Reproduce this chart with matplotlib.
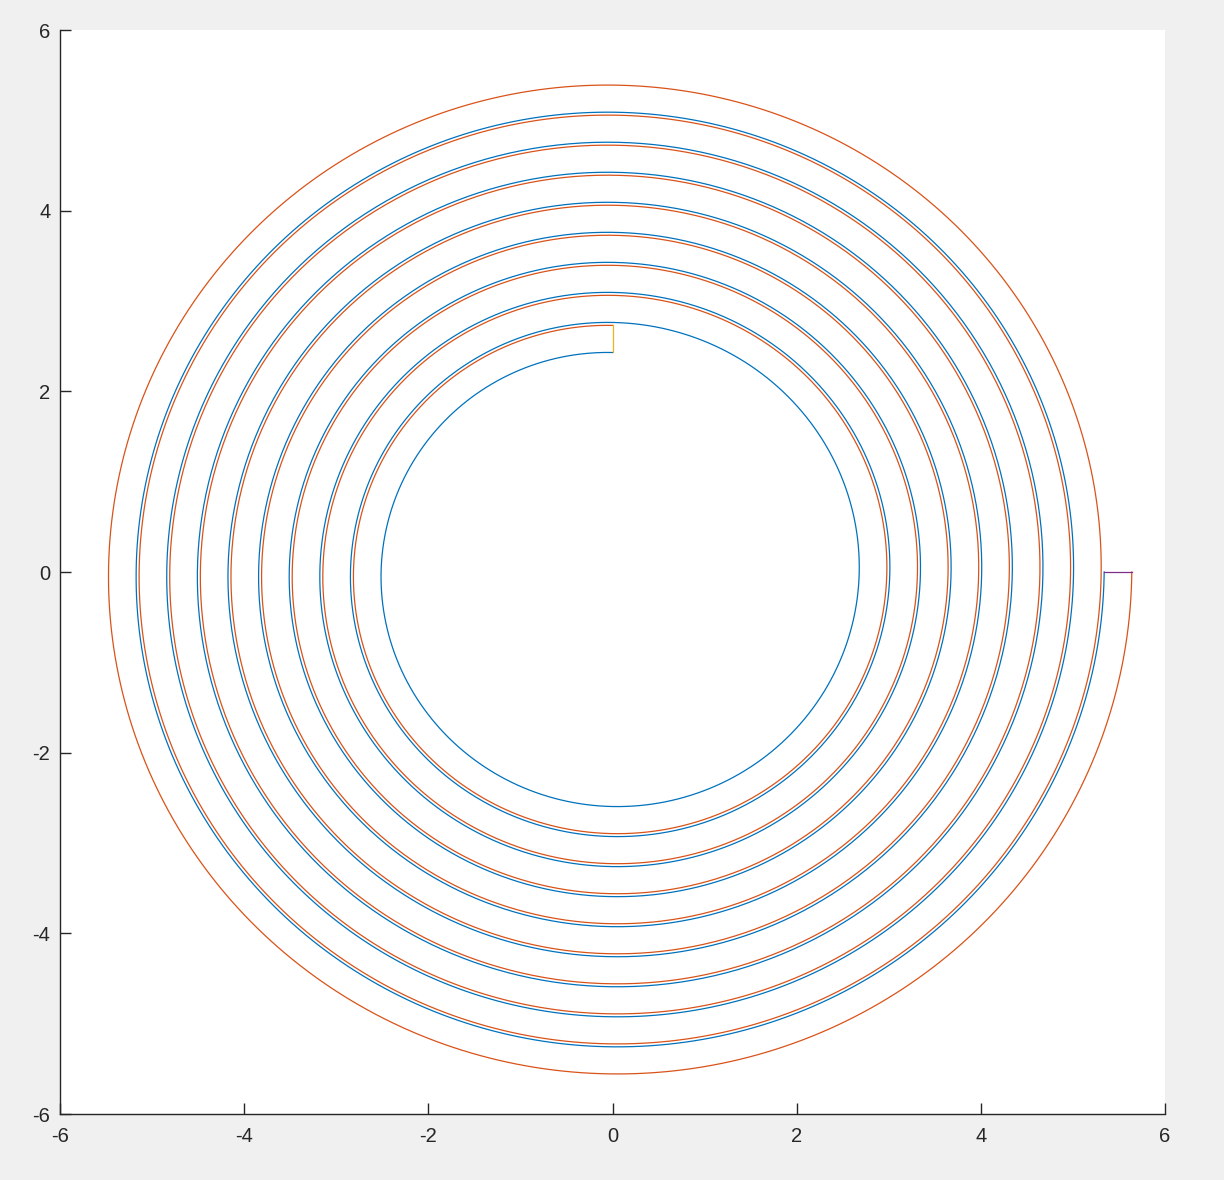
import numpy as np
import matplotlib
matplotlib.use('Agg')
from matplotlib import pyplot as plt

# spiral parameters
r_start = 2.43      # inner start radius of the blue spiral (top, x=0)
pitch = 0.3325      # radial growth per turn
turns = 8.75        # number of turns, counter-clockwise from the top
gap = 0.30          # offset of the orange spiral from the blue one

tick_vals = [-6, -4, -2, 0, 2, 4, 6]
tick_labels = ['-6', '-4', '-2', '0', '2', '4', '6']

# MATLAB default colours
c_blue = '#0072BD'
c_orange = '#D95319'
c_yellow = '#EDB120'
c_purple = '#7E2F8E'

t = np.linspace(0, turns, 6000)
theta = np.pi / 2 + 2 * np.pi * t
r_in = r_start + pitch * t
r_out = r_in + gap

x_in, y_in = r_in * np.cos(theta), r_in * np.sin(theta)
x_out, y_out = r_out * np.cos(theta), r_out * np.sin(theta)

fig = plt.figure(figsize=(12.24, 11.8), dpi=100, facecolor='#F0F0F0')
ax = fig.add_axes([60 / 1224, 1 - 1114 / 1180, 1105 / 1224, 1084 / 1180])

lw = 0.9
ax.plot(x_in, y_in, color=c_blue, lw=lw)
ax.plot(x_out, y_out, color=c_orange, lw=lw)
# connecting segments at the inner and outer ends
ax.plot([x_in[0], x_out[0]], [y_in[0], y_out[0]], color=c_yellow, lw=lw)
ax.plot([x_in[-1], x_out[-1]], [y_in[-1], y_out[-1]], color=c_purple, lw=lw)

ax.set_xlim(-6, 6)
ax.set_ylim(-6, 6)
ax.set_xticks(tick_vals)
ax.set_xticklabels(tick_labels)
ax.set_yticks(tick_vals)
ax.set_yticklabels(tick_labels)

for s in ['top', 'right']:
    ax.spines[s].set_visible(False)
for s in ['left', 'bottom']:
    ax.spines[s].set_color('#262626')
    ax.spines[s].set_linewidth(1.0)

ax.tick_params(direction='in', length=8, width=1.0, color='#262626',
               labelcolor='#262626', labelsize=14.5)
ax.tick_params(axis='x', pad=9)
ax.tick_params(axis='y', pad=7)
for lab in ax.get_xticklabels() + ax.get_yticklabels():
    lab.set_fontfamily(['Liberation Sans', 'DejaVu Sans'])

fig.savefig('out.png', dpi=100, facecolor=fig.get_facecolor())
